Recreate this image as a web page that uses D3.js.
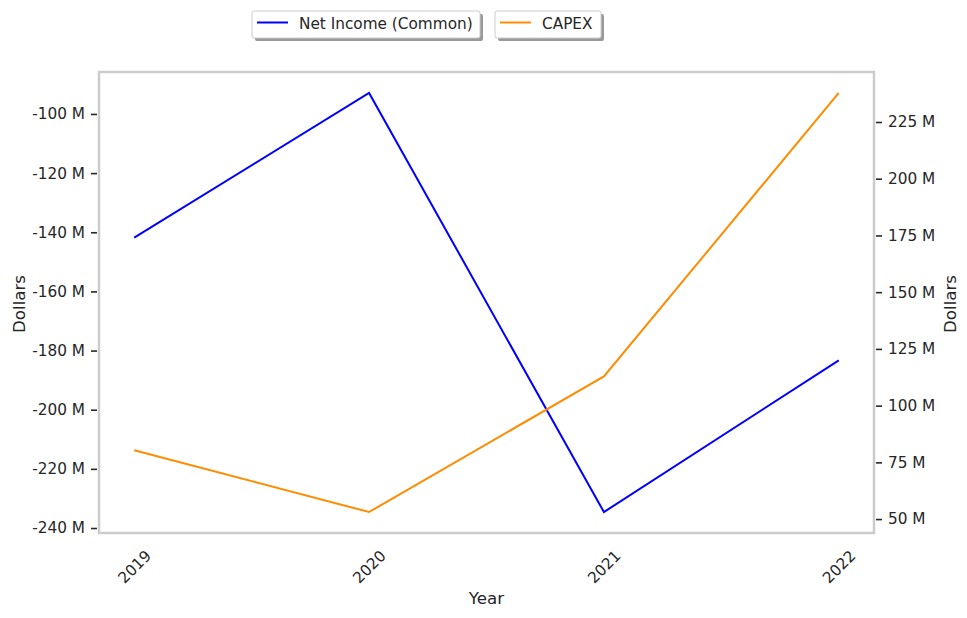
<!DOCTYPE html>
<html>
<head>
<meta charset="utf-8">
<script src="https://cdn.jsdelivr.net/npm/d3@7"></script>
<style>
  body { margin: 0; background: #fff; }
  text { font-family: "DejaVu Sans", sans-serif; fill: #262626; }
</style>
</head>
<body>
<svg id="chart" width="967" height="618"></svg>
<script>
// data (millions of dollars)
var years = [2019, 2020, 2021, 2022];
var netIncome = [-141.8, -92.9, -234.6, -183.3];
var capex = [80.3, 53.1, 112.9, 237.8];
var leftTicks = [-240, -220, -200, -180, -160, -140, -120, -100];
var rightTicks = [50, 75, 100, 125, 150, 175, 200, 225];

var svg = d3.select("#chart");
var m = { left: 99, right: 874, top: 72, bottom: 533 };
var fs = 15.3;

function padded(vals) {
  var lo = d3.min(vals), hi = d3.max(vals), p = (hi - lo) * 0.05;
  return [lo - p, hi + p];
}

var x = d3.scaleLinear().domain(padded(years)).range([m.left, m.right]);
var yL = d3.scaleLinear().domain(padded(netIncome)).range([m.bottom, m.top]);
var yR = d3.scaleLinear().domain(padded(capex)).range([m.bottom, m.top]);

// left axis
var gl = svg.append("g").attr("transform", "translate(" + (m.left - 2) + ",0)")
  .call(d3.axisLeft(yL).tickValues(leftTicks).tickSize(6).tickPadding(6)
    .tickFormat(function(d) { return d + " M"; }));
// right axis
var gr = svg.append("g").attr("transform", "translate(" + (m.right + 2) + ",0)")
  .call(d3.axisRight(yR).tickValues(rightTicks).tickSize(6).tickPadding(6)
    .tickFormat(function(d) { return d + " M"; }));
// bottom axis, no tick marks
var gb = svg.append("g").attr("transform", "translate(0," + m.bottom + ")")
  .call(d3.axisBottom(x).tickValues(years).tickSize(0).tickFormat(d3.format("d")));

[gl, gr, gb].forEach(function(g) {
  g.select(".domain").remove();
  g.selectAll(".tick line").attr("stroke", "#262626").attr("stroke-width", 1.6);
  g.selectAll("text").attr("font-size", fs).attr("fill", "#262626");
});
// rotated labels, centred under the tick
gb.selectAll("text")
  .attr("text-anchor", "middle")
  .attr("dominant-baseline", "central")
  .attr("dy", null).attr("y", 0)
  .attr("transform", "translate(0,34) rotate(-45)");

// lines
var lineL = d3.line().x(function(d, i) { return x(years[i]); }).y(function(d) { return yL(d); });
var lineR = d3.line().x(function(d, i) { return x(years[i]); }).y(function(d) { return yR(d); });

svg.append("path").datum(netIncome).attr("d", lineL)
  .attr("fill", "none").attr("stroke", "#0000ff").attr("stroke-width", 2);
svg.append("path").datum(capex).attr("d", lineR)
  .attr("fill", "none").attr("stroke", "#ff8c00").attr("stroke-width", 2);

// frame
svg.append("rect")
  .attr("x", m.left).attr("y", m.top)
  .attr("width", m.right - m.left).attr("height", m.bottom - m.top)
  .attr("fill", "none").attr("stroke", "#cccccc").attr("stroke-width", 2.5);

// axis titles
svg.append("text").attr("x", (m.left + m.right) / 2).attr("y", 604)
  .attr("text-anchor", "middle").attr("font-size", 16.7).text("Year");
svg.append("text").attr("transform", "translate(25,304) rotate(-90)")
  .attr("text-anchor", "middle").attr("font-size", 16.7).text("Dollars");
svg.append("text").attr("transform", "translate(956,304) rotate(-90)")
  .attr("text-anchor", "middle").attr("font-size", 16.7).text("Dollars");

// legends
var legends = [
  { label: "Net Income (Common)", color: "#0000ff", x: 252, w: 228 },
  { label: "CAPEX", color: "#ff8c00", x: 495, w: 106 }
];
legends.forEach(function(l) {
  var g = svg.append("g").attr("transform", "translate(" + l.x + ",11)");
  g.append("rect").attr("x", 3).attr("y", 3).attr("width", l.w).attr("height", 27)
    .attr("rx", 2).attr("fill", "#999999");
  g.append("rect").attr("x", 0).attr("y", 0).attr("width", l.w).attr("height", 27)
    .attr("rx", 2).attr("fill", "#fff").attr("stroke", "#cccccc").attr("stroke-width", 1);
  g.append("line").attr("x1", 5).attr("x2", 36).attr("y1", 11.5).attr("y2", 11.5)
    .attr("stroke", l.color).attr("stroke-width", 2);
  g.append("text").attr("x", 47).attr("y", 17.5).attr("font-size", fs).text(l.label);
});
</script>
</body>
</html>
